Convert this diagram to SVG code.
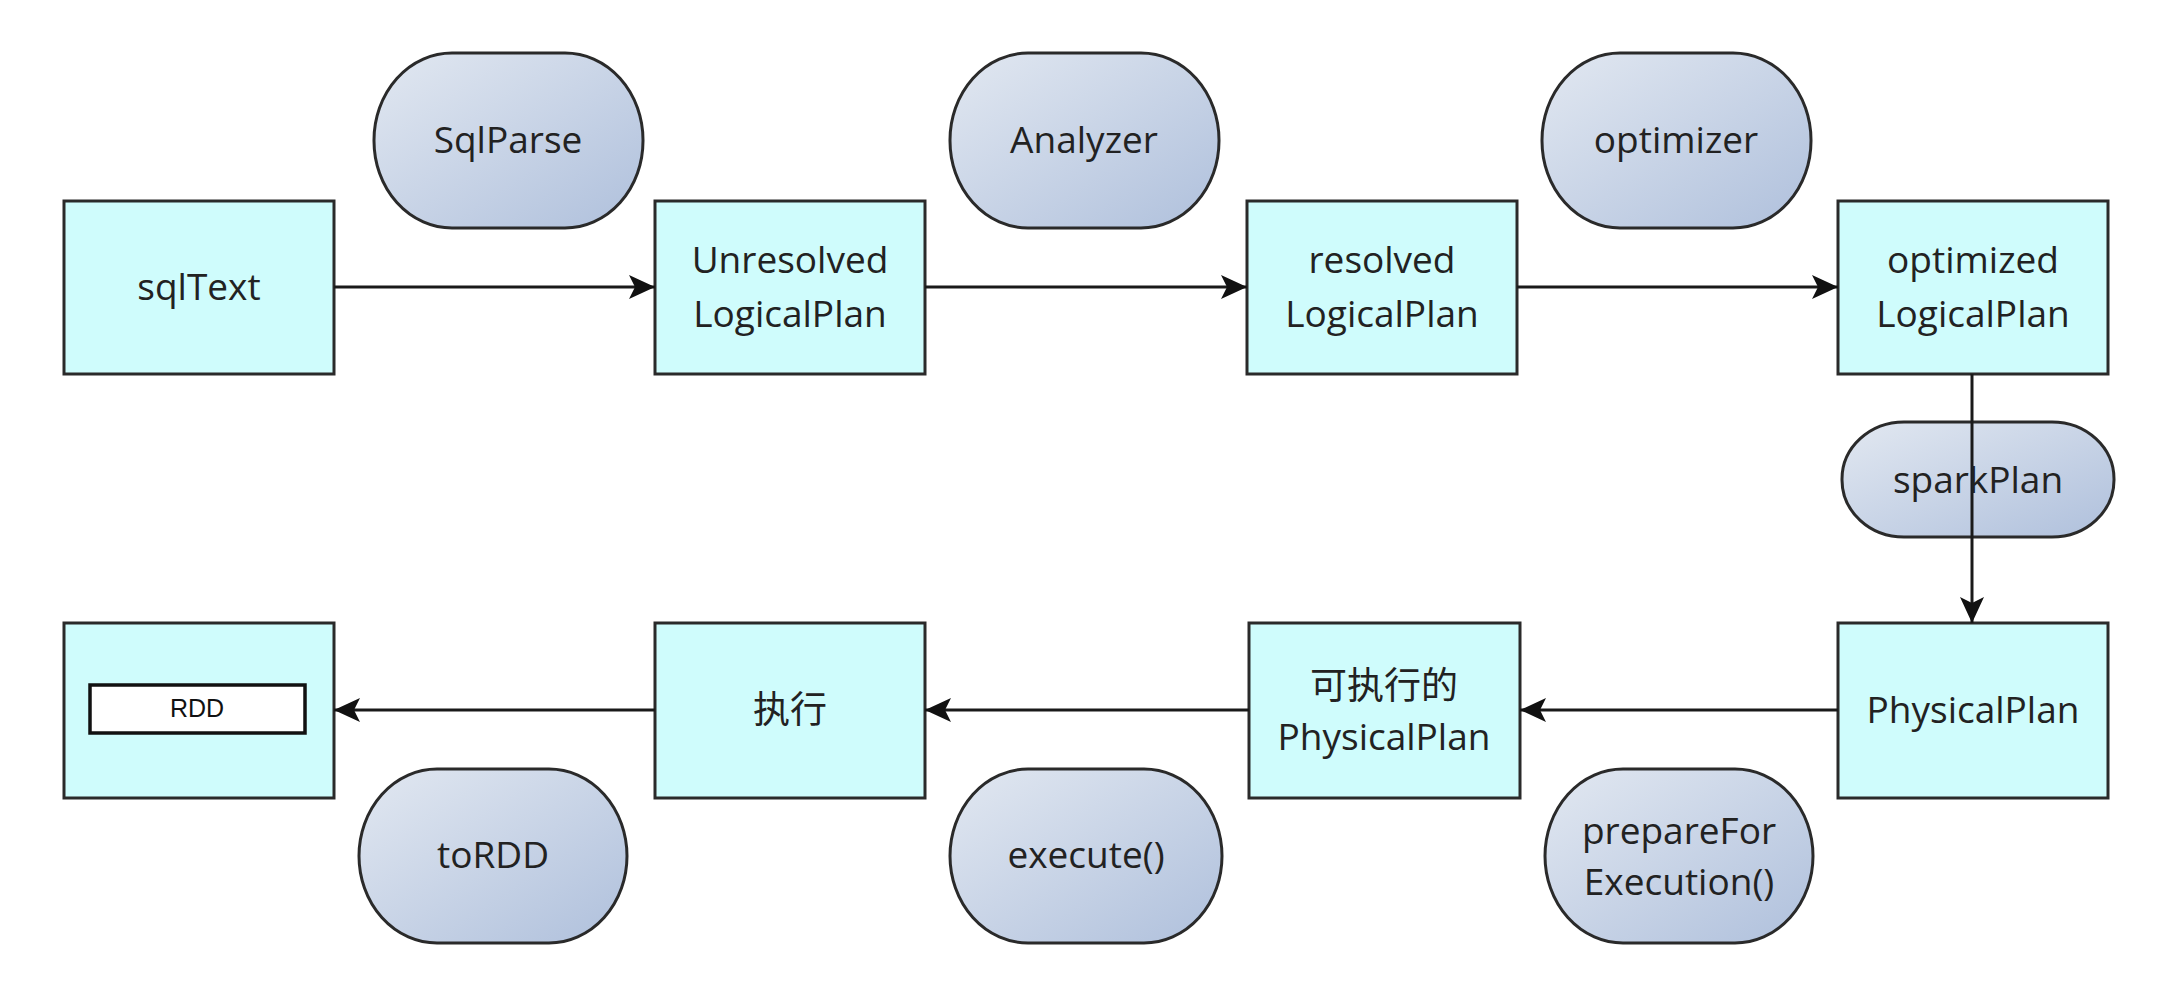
<svg xmlns="http://www.w3.org/2000/svg" width="2172" height="998" viewBox="0 0 2172 998">
<defs>
<linearGradient id="sg" x1="0" y1="0" x2="1" y2="1">
<stop offset="0" stop-color="#e2e8f1"/>
<stop offset="1" stop-color="#afc0dc"/>
</linearGradient>
<marker id="ah" markerUnits="userSpaceOnUse" viewBox="0 0 26 26" refX="26" refY="13" markerWidth="26" markerHeight="26" orient="auto">
<path d="M0,1 L26,13 L0,25 L6,13 z" fill="#111"/>
</marker>
<style>
.box{fill:#cffcfc;stroke:#2a2a2a;stroke-width:3}
.st{fill:url(#sg);stroke:#2a2a2a;stroke-width:3}
.t{font-family:"Open Sans","Noto Sans CJK SC",sans-serif;font-size:37px;font-weight:500;fill:#222;text-anchor:middle}
.cjk{font-weight:400}
.c{stroke:#1a1a1a;stroke-width:3;fill:none;marker-end:url(#ah)}
</style>
</defs>
<rect width="2172" height="998" fill="#ffffff"/>
<g id="sqlText"><rect class="box" x="64" y="201" width="270" height="173"/><text class="t" x="199" y="300">sqlText</text></g>
<g id="unresolved"><rect class="box" x="655" y="201" width="270" height="173"/><text class="t" x="790" y="273">Unresolved</text><text class="t" x="790" y="327">LogicalPlan</text></g>
<g id="resolved"><rect class="box" x="1247" y="201" width="270" height="173"/><text class="t" x="1382" y="273">resolved</text><text class="t" x="1382" y="327">LogicalPlan</text></g>
<g id="optimized"><rect class="box" x="1838" y="201" width="270" height="173"/><text class="t" x="1973" y="273">optimized</text><text class="t" x="1973" y="327">LogicalPlan</text></g>
<g id="sqlParse"><rect class="st" x="374" y="53" width="269" height="175" rx="78" ry="87"/><text class="t" x="508" y="153">SqlParse</text></g>
<g id="analyzer"><rect class="st" x="950" y="53" width="269" height="175" rx="78" ry="87"/><text class="t" x="1084" y="153">Analyzer</text></g>
<g id="optimizer"><rect class="st" x="1542" y="53" width="269" height="175" rx="78" ry="87"/><text class="t" x="1676" y="153">optimizer</text></g>
<g id="sparkPlan"><rect class="st" x="1842" y="422" width="272" height="115" rx="62" ry="57"/></g>
<g id="physicalPlan"><rect class="box" x="1838" y="623" width="270" height="175"/><text class="t" x="1973" y="723">PhysicalPlan</text></g>
<g id="execPhysical"><rect class="box" x="1249" y="623" width="271" height="175"/><text class="t cjk" x="1384" y="699">可执行的</text><text class="t" x="1384" y="750">PhysicalPlan</text></g>
<g id="exec"><rect class="box" x="655" y="623" width="270" height="175"/><text class="t cjk" x="790" y="723">执行</text></g>
<g id="rdd"><rect class="box" x="64" y="623" width="270" height="175"/><rect x="90" y="685" width="215" height="48" fill="#ffffff" stroke="#111" stroke-width="3.5"/><text x="197" y="717" font-family="Liberation Sans, Arial, sans-serif" font-size="25" fill="#111" text-anchor="middle">RDD</text></g>
<g id="toRDD"><rect class="st" x="359" y="769" width="268" height="174" rx="78" ry="87"/><text class="t" x="493" y="868">toRDD</text></g>
<g id="execute"><rect class="st" x="950" y="769" width="272" height="174" rx="78" ry="87"/><text class="t" x="1086" y="868">execute()</text></g>
<g id="prepare"><rect class="st" x="1545" y="769" width="268" height="174" rx="78" ry="87"/><text class="t" x="1679" y="844">prepareFor</text><text class="t" x="1679" y="895">Execution()</text></g>
<g id="connectors">
<line class="c" x1="334" y1="287" x2="655" y2="287"/>
<line class="c" x1="925" y1="287" x2="1247" y2="287"/>
<line class="c" x1="1517" y1="287" x2="1838" y2="287"/>
<line class="c" x1="1972" y1="374" x2="1972" y2="623"/>
<line class="c" x1="1838" y1="710" x2="1520" y2="710"/>
<line class="c" x1="1249" y1="710" x2="925" y2="710"/>
<line class="c" x1="655" y1="710" x2="334" y2="710"/>
</g>
<text class="t" x="1978" y="493">sparkPlan</text>
</svg>
